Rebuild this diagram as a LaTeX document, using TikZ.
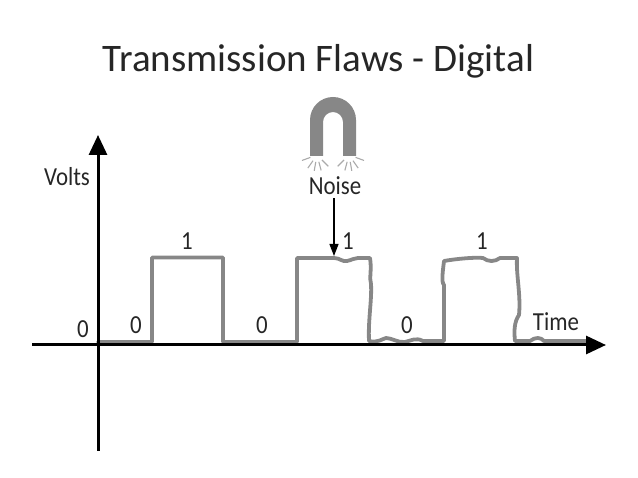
\documentclass[tikz,border=0pt]{standalone}
\usepackage{fontspec}
\setmainfont{Carlito}
\newfontfamily\labelfont[FakeStretch=0.88]{Carlito}
\usetikzlibrary{arrows.meta}
\definecolor{signalgray}{RGB}{135,135,135}
\definecolor{raygray}{RGB}{170,170,170}
\tikzset{
  label text/.style = {text = black!85, font = \labelfont\fontsize{26}{26}\selectfont, inner sep = 0pt},
  axis line/.style = {line width = 3pt, -{Triangle[length = 20pt, width = 18pt]}},
  signal line/.style = {line width = 3.8pt, signalgray, line join = round, line cap = round},
  ray line/.style = {line width = 1.1pt, raygray}
}
\begin{document}
\begin{tikzpicture}[x = 1pt, y = -1pt]
\useasboundingbox (0,0) rectangle (638,478);
\node[anchor = center, text = black!85, font = \fontsize{39}{39}\selectfont, inner sep = 0pt] (title) at (318.5,61) {Transmission Flaws - Digital};
% signal
\draw[signal line] (98,342) -- (152,342) -- (152,257.5) -- (223,257.5) -- (223,342) -- (297,342) -- (297,258) -- (334,258)
  .. controls (340,258) and (342,262) .. (347,261) .. controls (352,260) and (354,258) .. (358,258) -- (370,258)
  .. controls (372,270) and (369,278) .. (371,284) .. controls (372,300) and (368,320) .. (369,341)
  .. controls (378,343) and (382,339) .. (386,338) .. controls (392,338) and (398,343) .. (405,342) .. controls (410,341) and (416,337) .. (423,341) -- (444,341)
  -- (444,285) .. controls (441,282) and (443,270) .. (444,261) .. controls (455,259) and (475,257) .. (483,258)
  .. controls (488,262) and (495,262) .. (500,258) -- (517,258)
  .. controls (516,275) and (521,295) .. (519,315) .. controls (514,322) and (514,332) .. (515,341)
  -- (530,341) .. controls (535,337) and (541,337) .. (544,341) -- (590,341);
% axes
\coordinate (xstart) at (32,345);
\coordinate (xend) at (606,345);
\coordinate (ystart) at (98,451);
\coordinate (yend) at (98,135);
\draw[axis line] (xstart) -- (xend);
\draw[axis line] (ystart) -- (yend);
% magnet
\fill[signalgray] (310,156) -- (310,120) arc (180:360:23) -- (356,156) -- (343,156) -- (343,122) arc (360:180:10) -- (323,156) -- cycle;
\foreach \a in {160,125,100,75,45} {
  \draw[ray line] (317,155) ++(\a:7) -- ++(\a:9);
}
\foreach \a in {135,105,80,55,20} {
  \draw[ray line] (349,155) ++(\a:7) -- ++(\a:9);
}
% labels
\node[label text] (volts) at (67,177) {Volts};
\node[label text] (zeroaxis) at (83,329) {0};
\node[label text] (zerofirst) at (136,325) {0};
\node[label text] (onefirst) at (187,241) {1};
\node[label text] (zerosecond) at (262,325) {0};
\node[label text] (noise) at (335,186) {Noise};
\node[label text] (onesecond) at (348,241) {1};
\node[label text] (zerothird) at (407,325) {0};
\node[label text] (onethird) at (482,241) {1};
\node[label text] (time) at (556,322) {Time};
\coordinate (noisetip) at (334,256);
\draw[line width = 1.2pt, -{Triangle[length = 12pt, width = 9pt]}] (noise.south -| noisetip) ++(0,3) -- (noisetip);
\end{tikzpicture}
\end{document}
